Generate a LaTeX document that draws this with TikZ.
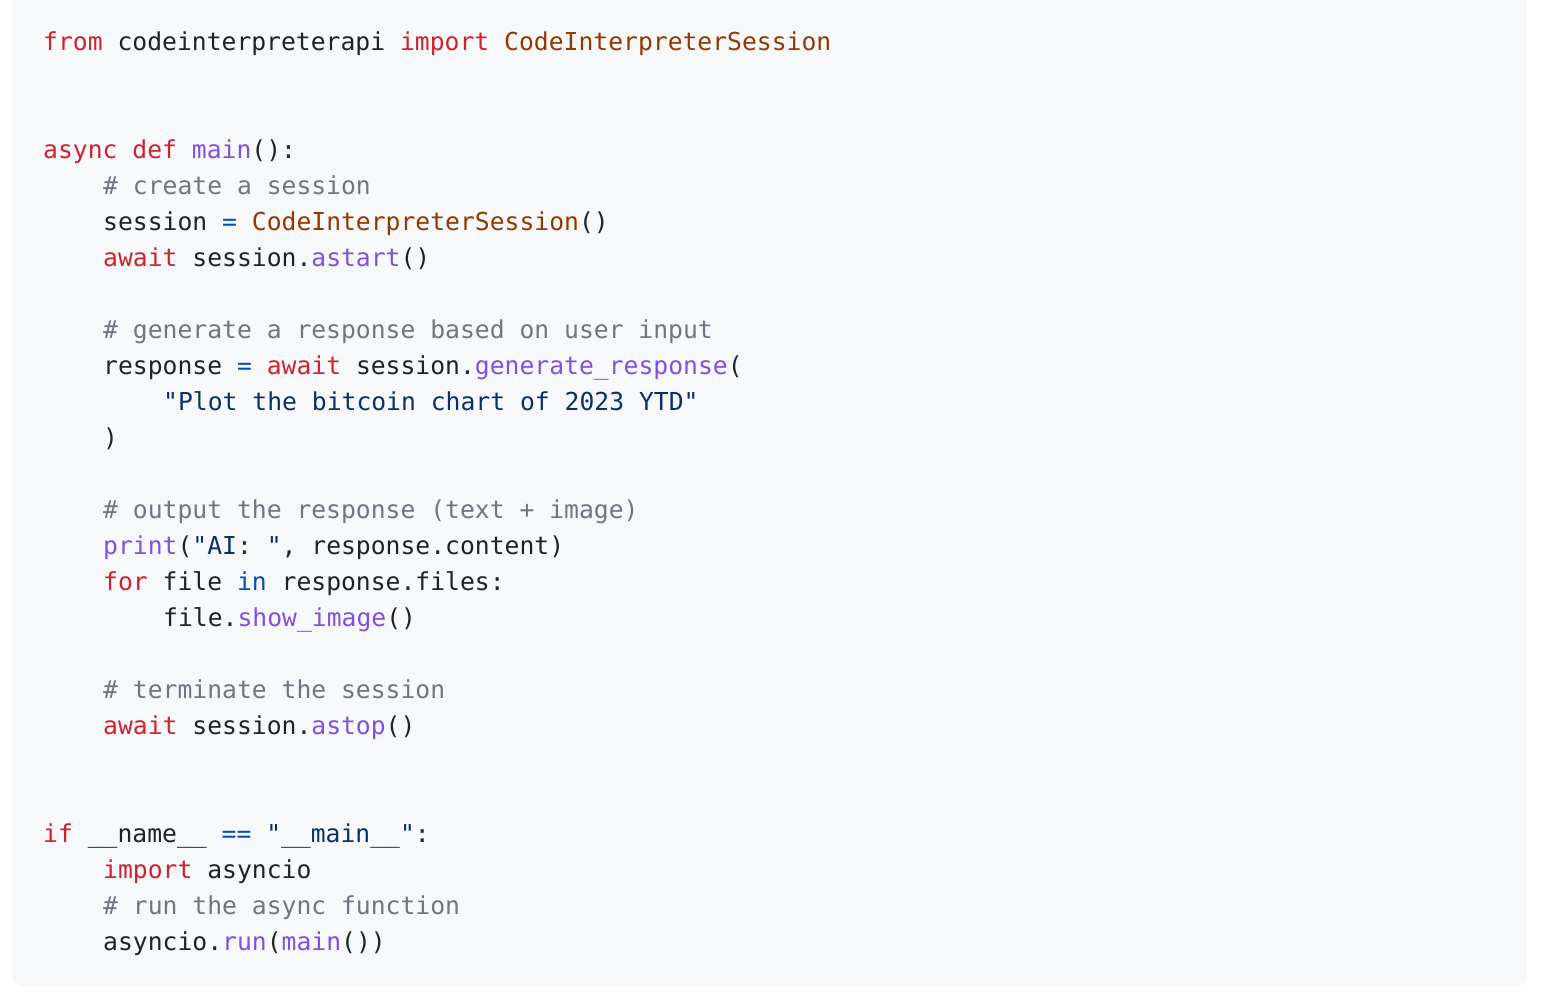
\documentclass[tikz,border=0pt]{standalone}
\usepackage{fontspec}
\setmonofont{DejaVu Sans Mono}
\definecolor{bgc}{HTML}{F6F8FA}
\definecolor{kwc}{HTML}{CF222E}
\definecolor{clc}{HTML}{953800}
\definecolor{fnc}{HTML}{8250DF}
\definecolor{cmc}{HTML}{6E7781}
\definecolor{stc}{HTML}{0A3069}
\definecolor{opc}{HTML}{0550AE}
\definecolor{txc}{HTML}{1F2328}
\newcommand{\kw}[1]{\textcolor{kwc}{#1}}
\newcommand{\cl}[1]{\textcolor{clc}{#1}}
\newcommand{\fn}[1]{\textcolor{fnc}{#1}}
\newcommand{\cm}[1]{\textcolor{cmc}{#1}}
\newcommand{\st}[1]{\textcolor{stc}{#1}}
\newcommand{\op}[1]{\textcolor{opc}{#1}}
\begin{document}
\begin{tikzpicture}[x=1pt,y=-1pt,
  code/.style={anchor=base west,inner sep=0pt,text=txc,font=\ttfamily\fontsize{24.7}{30}\selectfont}]
\useasboundingbox (0,0) rectangle (1542,997);
\fill[bgc,rounded corners=12pt] (12,-20) rectangle (1527,987);
\node[code] (l1) at (43,50) {\kw{from} codeinterpreterapi \kw{import} \cl{CodeInterpreterSession}};
\node[code] (l4) at (43,158) {\kw{async def} \fn{main}():};
\node[code] (l5) at (103,194) {\cm{\# create a session}};
\node[code] (l6) at (103,230) {session \op{=} \cl{CodeInterpreterSession}()};
\node[code] (l7) at (103,266) {\kw{await} session.\fn{astart}()};
\node[code] (l9) at (103,338) {\cm{\# generate a response based on user input}};
\node[code] (l10) at (103,374) {response \op{=} \kw{await} session.\fn{generate\_response}(};
\node[code] (l11) at (163,410) {\st{"Plot the bitcoin chart of 2023 YTD"}};
\node[code] (l12) at (103,446) {)};
\node[code] (l14) at (103,518) {\cm{\# output the response (text + image)}};
\node[code] (l15) at (103,554) {\fn{print}(\st{"AI: "}, response.content)};
\node[code] (l16) at (103,590) {\kw{for} file \op{in} response.files:};
\node[code] (l17) at (163,626) {file.\fn{show\_image}()};
\node[code] (l19) at (103,698) {\cm{\# terminate the session}};
\node[code] (l20) at (103,734) {\kw{await} session.\fn{astop}()};
\node[code] (l23) at (43,842) {\kw{if} \_\_name\_\_ \op{==} \st{"\_\_main\_\_"}:};
\node[code] (l24) at (103,878) {\kw{import} asyncio};
\node[code] (l25) at (103,914) {\cm{\# run the async function}};
\node[code] (l26) at (103,950) {asyncio.\fn{run}(\fn{main}())};
\end{tikzpicture}
\end{document}
